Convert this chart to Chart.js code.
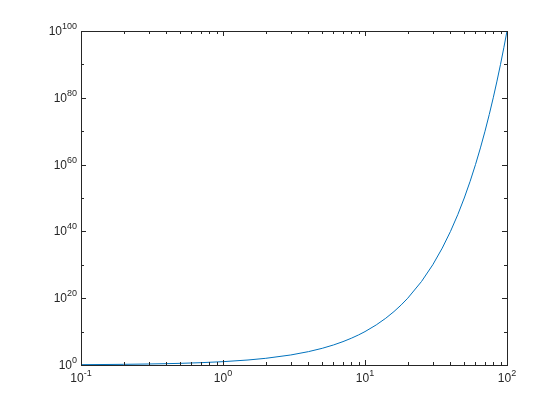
<!DOCTYPE html>
<html><head><meta charset="utf-8">
<script src="https://cdn.jsdelivr.net/npm/chart.js@4"></script>
<style>html,body{margin:0;background:#fff}#c{width:560px;height:420px}</style>
</head><body><div id="c"><canvas id="cv" width="560" height="420"></canvas></div>
<script>
const xValues=[0.1,0.15,0.2,0.3,0.4,0.5,0.7,1,1.5,2,3,4,5,6,7,8,9,10,12,14,16,18,20,25,30,35,40,45,50,55,60,65,70,75,80,85,90,95,100];
const yValues=[1.259,1.413,1.585,1.995,2.512,3.162,5.012,10,31.62,1e2,1e3,1e4,1e5,1e6,1e7,1e8,1e9,1e10,1e12,1e14,1e16,1e18,1e20,1e25,1e30,1e35,1e40,1e45,1e50,1e55,1e60,1e65,1e70,1e75,1e80,1e85,1e90,1e95,1e100];
const xTickExps=[-1,0,1,2];
const yTickExps=[0,20,40,60,80,100];
const F='Arial, "Liberation Sans", Helvetica, sans-serif';
function lbl(g,x,y,exp,align){g.font='12px '+F;const b=g.measureText('10').width;g.font='9px '+F;const e=g.measureText(String(exp)).width;const w=b+e;
 let x0=align==='center'?x-w/2:x-w;g.fillStyle='#262626';g.textBaseline='alphabetic';g.textAlign='left';
 g.font='12px '+F;g.fillText('10',x0,y);g.font='9px '+F;g.fillText(String(exp),x0+b,y-6);}
const box={id:'box',afterDraw(c){const a=c.chartArea,g=c.ctx;g.save();g.strokeStyle='#262626';g.lineWidth=1;g.strokeRect(a.left+0.5,a.top+0.5,a.right-a.left,a.bottom-a.top);
const xs=c.scales.x,ys=c.scales.y;g.beginPath();
xs.ticks.forEach(t=>{const p=Math.round(xs.getPixelForValue(t.value))+0.5;const major=Math.abs(Math.log10(t.value)%1)<1e-9;const L=major?5:3;g.moveTo(p,a.bottom);g.lineTo(p,a.bottom-L);g.moveTo(p,a.top);g.lineTo(p,a.top+L);});
ys.ticks.forEach(t=>{const p=Math.round(ys.getPixelForValue(t.value))+0.5;const L=(Math.round(Math.log10(t.value))%20===0)?5:3;g.moveTo(a.left,p);g.lineTo(a.left+L,p);g.moveTo(a.right,p);g.lineTo(a.right-L,p);});
g.stroke();
xTickExps.forEach(e=>lbl(g,xs.getPixelForValue(Math.pow(10,e)),a.bottom+17,e<0?'-1':e,'center'));
yTickExps.forEach(e=>lbl(g,a.left-4,ys.getPixelForValue(Number('1e'+e))+4,e,'right'));
g.restore();}};
const xt=[];[0.1,1,10].forEach(d=>{for(let k=1;k<10;k++)xt.push(+(d*k).toPrecision(3));});xt.push(100);
const yt=[];for(let e=0;e<=100;e+=10)yt.push(Number('1e'+e));
new Chart(document.getElementById('cv'),{type:'line',
data:{datasets:[{data:xValues.map((x,i)=>({x,y:yValues[i]})),borderColor:'#0072BD',borderWidth:1,pointRadius:0,tension:0}]},
options:{responsive:false,animation:false,layout:{padding:{left:73,right:53,top:31,bottom:47}},
plugins:{legend:{display:false},tooltip:{enabled:false}},
scales:{
x:{type:'logarithmic',min:0.1,max:100,afterBuildTicks:s=>{s.ticks=xt.map(v=>({value:v}));},
 grid:{display:false},border:{display:false},ticks:{display:false}},
y:{type:'logarithmic',min:1,max:1e100,afterBuildTicks:s=>{s.ticks=yt.map(v=>({value:v}));},
 grid:{display:false},border:{display:false},ticks:{display:false}}
}},plugins:[box]});
</script></body></html>
